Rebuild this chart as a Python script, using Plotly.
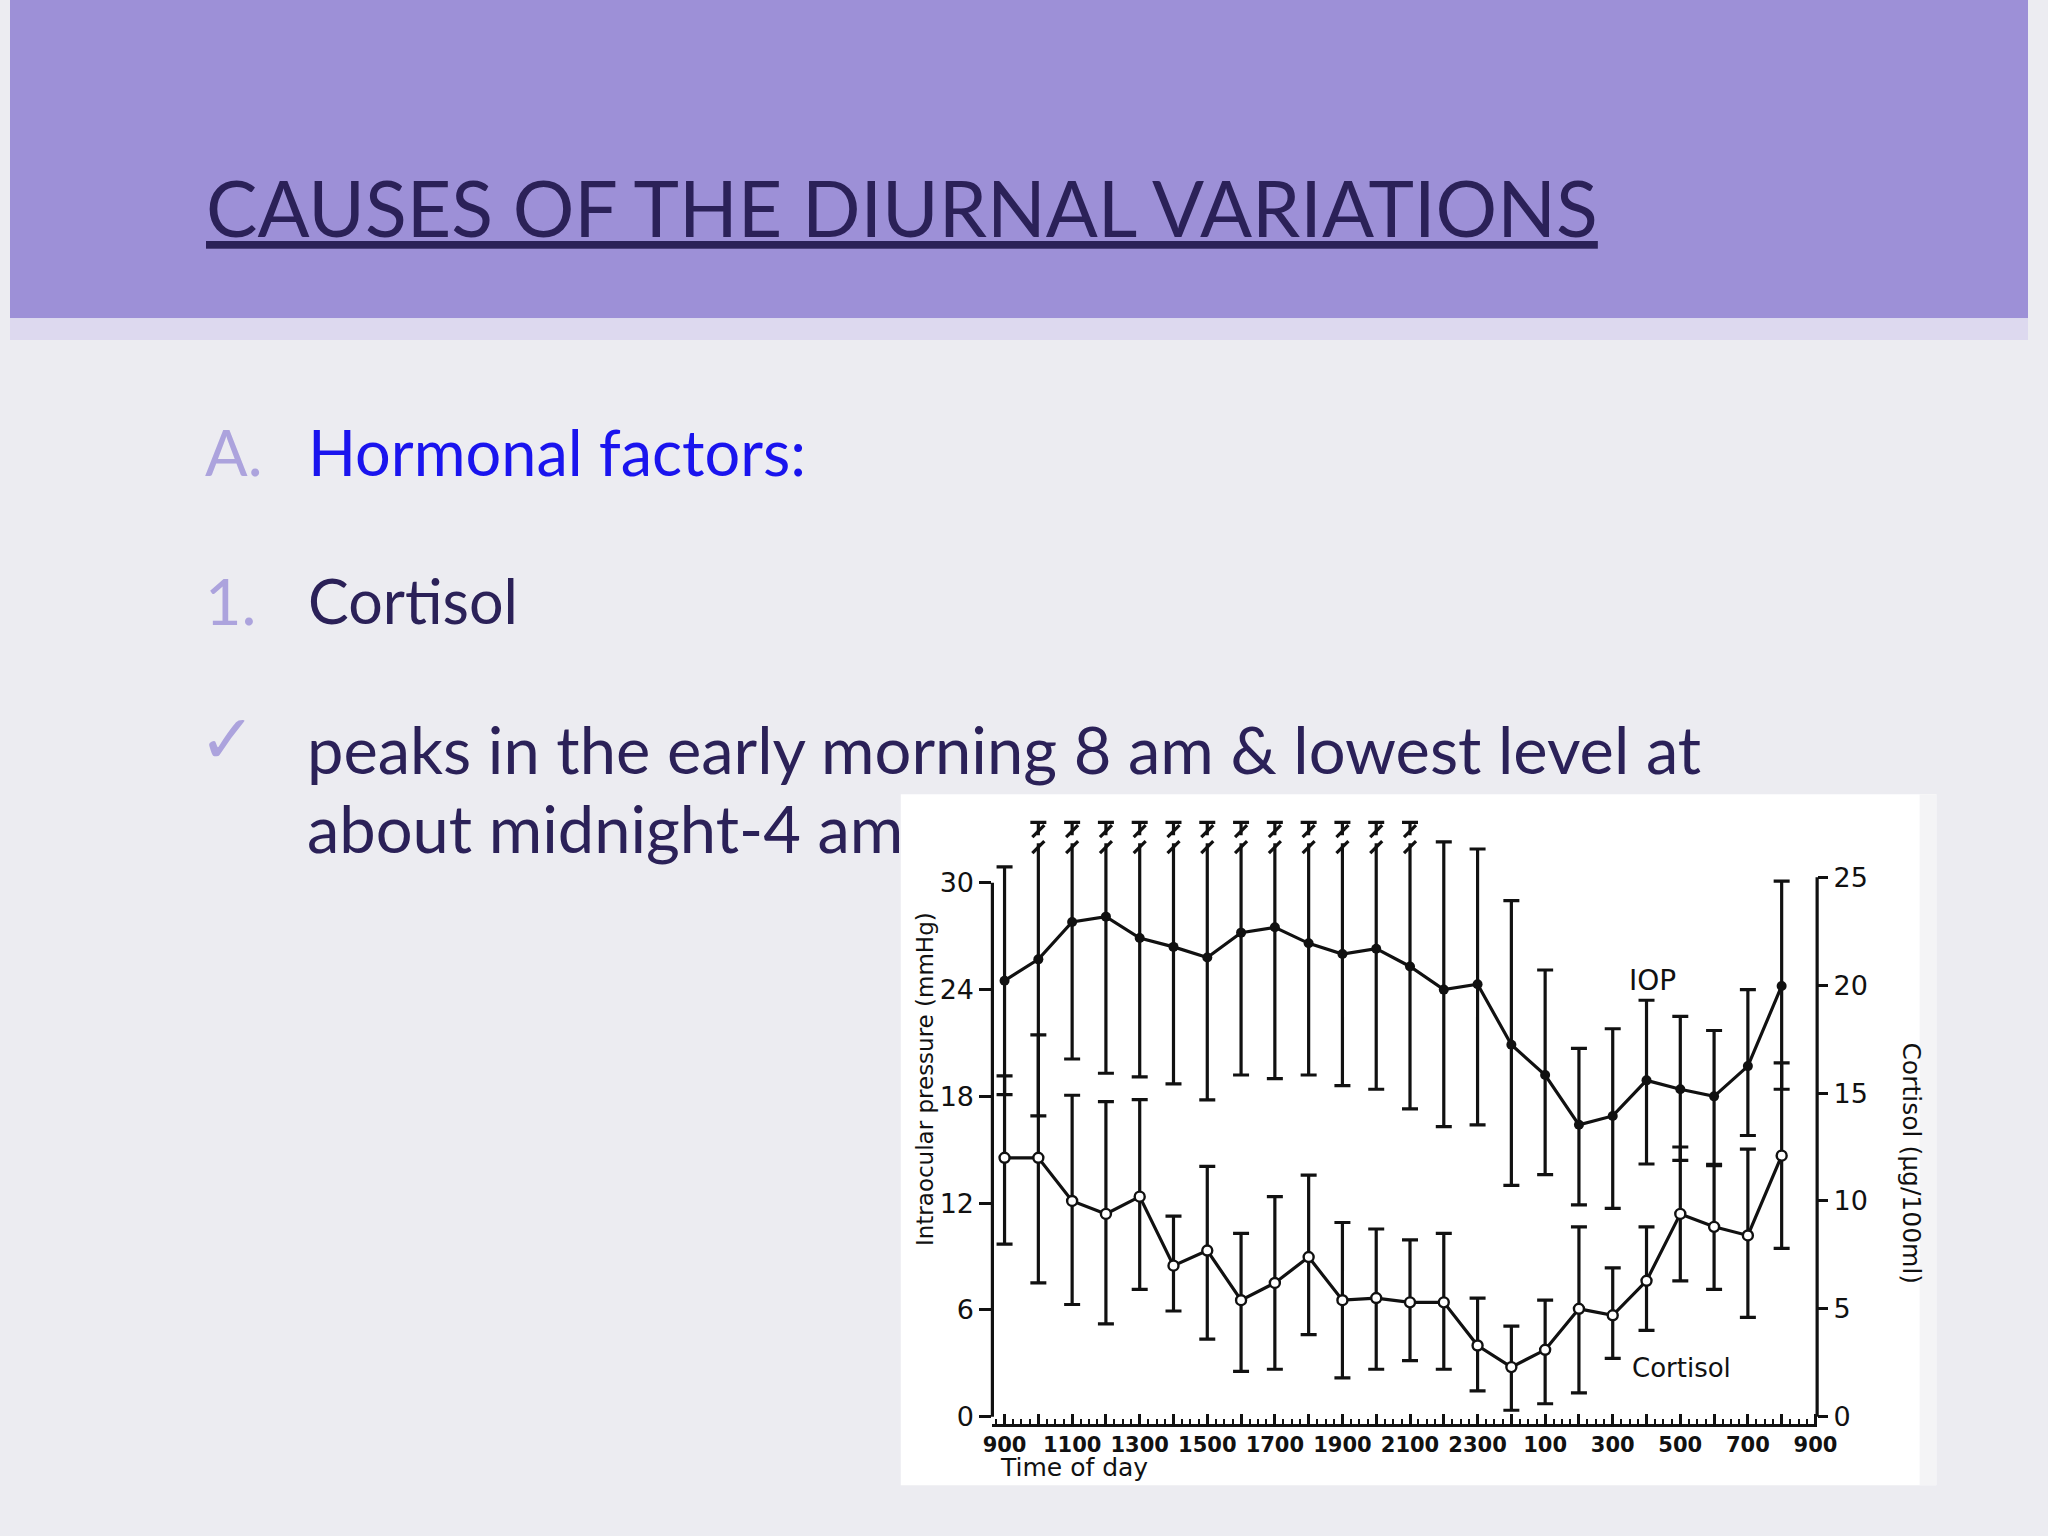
import plotly.graph_objects as go

W, H = 2048, 1536

# hours after 09:00 (0 = 900, 15 = 2400, 23 = 800 next morning)
hours = list(range(24))
tick_hours = list(range(25))
tick_text = ["900", "", "1100", "", "1300", "", "1500", "", "1700", "", "1900", "",
             "2100", "", "2300", "", "100", "", "300", "", "500", "", "700", "", "900"]

# intraocular pressure (mmHg), filled circles
iop = [24.5, 25.7, 27.8, 28.1, 26.9, 26.4, 25.8, 27.2, 27.5, 26.6, 26.0, 26.3,
       25.3, 24.0, 24.3, 20.9, 19.2, 16.4, 16.9, 18.9, 18.4, 18.0, 19.7, 24.2]
# None = bar runs off the top of the scale (drawn broken)
iop_top = [30.9, None, None, None, None, None, None, None, None, None, None, None,
           None, 32.3, 31.9, 29.0, 25.1, 20.7, 21.8, 23.4, 22.5, 21.7, 24.0, 30.1]
iop_bottom = [18.1, 16.9, 20.1, 19.3, 19.1, 18.7, 17.8, 19.2, 19.0, 19.2, 18.6, 18.4,
              17.3, 16.3, 16.4, 13.0, 13.6, 11.9, 11.7, 14.2, 14.4, 14.1, 15.8, 18.4]

# plasma cortisol (ug/100ml), open circles
cortisol = [12.0, 12.0, 10.0, 9.4, 10.2, 7.0, 7.7, 5.4, 6.2, 7.4, 5.4, 5.5,
            5.3, 5.3, 3.3, 2.3, 3.1, 5.0, 4.7, 6.3, 9.4, 8.8, 8.4, 12.1]
cort_top = [15.8, 17.7, 14.9, 14.6, 14.7, 9.3, 11.6, 8.5, 10.2, 11.2, 9.0, 8.7,
            8.2, 8.5, 5.5, 4.2, 5.4, 8.8, 6.9, 8.8, 12.5, 11.7, 12.4, 16.4]
cort_bottom = [8.0, 6.2, 5.2, 4.3, 5.9, 4.9, 3.6, 2.1, 2.2, 3.8, 1.8, 2.2,
               2.6, 2.2, 1.2, 0.3, 0.6, 1.1, 2.7, 4.0, 6.3, 5.9, 4.6, 7.8]

IOP_CAP = 33.4      # where off-scale bars are capped
BREAK_Y = 32.45     # break mark position

iop_up = [(t if t is not None else IOP_CAP) - v for t, v in zip(iop_top, iop)]
iop_dn = [v - b for v, b in zip(iop, iop_bottom)]
cort_up = [t - v for t, v in zip(cort_top, cortisol)]
cort_dn = [v - b for v, b in zip(cortisol, cort_bottom)]
broken = [h for h, t in zip(hours, iop_top) if t is None]


def px(x):
    return x / W


def py(y):
    return 1 - y / H


INK = "#111111"
LW = 3.2
fig = go.Figure()

fig.add_trace(go.Scatter(
    x=hours, y=iop, mode="lines+markers", name="IOP",
    line=dict(color=INK, width=LW),
    marker=dict(symbol="circle", size=10, color=INK),
    error_y=dict(type="data", symmetric=False, array=iop_up, arrayminus=iop_dn,
                 color=INK, thickness=LW, width=8),
))
# break marks on the off-scale bars
fig.add_trace(go.Scatter(
    x=broken, y=[BREAK_Y] * len(broken), mode="markers",
    marker=dict(symbol="square", size=8, color="white", line=dict(width=0)),
))
fig.add_trace(go.Scatter(
    x=broken + broken, y=[BREAK_Y + 0.45] * len(broken) + [BREAK_Y - 0.45] * len(broken),
    mode="markers",
    marker=dict(symbol="line-ne", size=12, color=INK, line=dict(color=INK, width=LW)),
))
fig.add_trace(go.Scatter(
    x=hours, y=cortisol, mode="lines+markers", name="Cortisol", yaxis="y2",
    line=dict(color=INK, width=LW),
    marker=dict(symbol="circle", size=10, color="white", line=dict(color=INK, width=2.4)),
    error_y=dict(type="data", symmetric=False, array=cort_up, arrayminus=cort_dn,
                 color=INK, thickness=LW, width=8),
))

# slide background pieces
shapes = [
    dict(type="rect", xref="paper", yref="paper", x0=0, x1=1, y0=py(320), y1=1,
         fillcolor="#9d90d7", line_width=0, layer="below"),
    dict(type="rect", xref="paper", yref="paper", x0=0, x1=1, y0=py(342), y1=py(320),
         fillcolor="#ddd9ef", line_width=0, layer="below"),
    dict(type="rect", xref="paper", yref="paper", x0=px(904), x1=px(1955), y0=py(1494), y1=py(799),
         fillcolor="white", line_width=0, layer="below"),
    dict(type="rect", xref="paper", yref="paper", x0=px(1938), x1=px(1955), y0=py(1494), y1=py(799),
         fillcolor="#f4f4f6", line_width=0, layer="below"),
    # vertical axis lines only span the labelled range
    dict(type="line", xref="x domain", yref="y", x0=0, x1=0, y0=0, y1=30,
         line=dict(color=INK, width=LW)),
    dict(type="line", xref="x domain", yref="y2", x0=1, x1=1, y0=0, y1=25,
         line=dict(color=INK, width=LW)),
]

TXT = "#2b2158"
LAV = "#aca3dd"
SLIDE_FONT = "Lato"
ann = [
    dict(text="<u>CAUSES OF THE DIURNAL VARIATIONS</u>", x=px(197), y=py(208),
         font=dict(family=SLIDE_FONT, size=77, color=TXT)),
    dict(text="A.", x=px(196), y=py(454), font=dict(family=SLIDE_FONT, size=63, color=LAV)),
    dict(text="Hormonal factors:", x=px(300), y=py(454),
         font=dict(family=SLIDE_FONT, size=63, color="#1a14ee")),
    dict(text="1.", x=px(196), y=py(604), font=dict(family=SLIDE_FONT, size=63, color=LAV)),
    dict(text="Cortisol", x=px(300), y=py(604), font=dict(family=SLIDE_FONT, size=61, color=TXT)),
    dict(text="✓", x=px(190), y=py(744), font=dict(family="DejaVu Sans", size=68, color=LAV)),
    dict(text="peaks in the early morning 8 am &amp; lowest level at", x=px(299), y=py(753),
         font=dict(family=SLIDE_FONT, size=65, color=TXT)),
    dict(text="about midnight-4 am", x=px(299), y=py(833),
         font=dict(family=SLIDE_FONT, size=65, color=TXT)),
    # chart labels
    dict(text="Intraocular pressure (mmHg)", x=px(928), y=py(1085), textangle=-90,
         xanchor="center", font=dict(family="DejaVu Sans", size=23, color=INK)),
    dict(text="Cortisol (µg/100ml)", x=px(1930), y=py(1170), textangle=90,
         xanchor="center", font=dict(family="DejaVu Sans", size=25, color=INK)),
    dict(text="Time of day", x=px(1003), y=py(1476),
         font=dict(family="DejaVu Sans", size=25, color=INK)),
    dict(text="IOP", x=px(1667), y=py(986), xanchor="center",
         font=dict(family="DejaVu Sans", size=28, color=INK)),
    dict(text="Cortisol", x=px(1696), y=py(1376), xanchor="center",
         font=dict(family="DejaVu Sans", size=26, color=INK)),
]
for a in ann:
    a.setdefault("xanchor", "left")
    a.update(xref="paper", yref="paper", yanchor="middle", showarrow=False)

fig.update_layout(
    width=W, height=H, autosize=False,
    margin=dict(l=0, r=0, t=0, b=0),
    paper_bgcolor="#ececf1", plot_bgcolor="rgba(0,0,0,0)",
    showlegend=False,
    shapes=shapes, annotations=ann,
    xaxis=dict(
        domain=[px(997), px(1834)], range=[-0.36, 24.05],
        tickvals=tick_hours, ticktext=tick_text,
        ticks="inside", ticklen=10, tickwidth=2.5, tickcolor=INK,
        minor=dict(ticks="inside", dtick=0.25, tick0=0, ticklen=5, tickwidth=2, tickcolor=INK),
        showline=True, linecolor=INK, linewidth=LW,
        showgrid=False, zeroline=False,
        tickfont=dict(family="DejaVu Sans", size=21, color=INK, weight="bold"),
    ),
    yaxis=dict(
        domain=[py(1432), py(815)], range=[-0.39, 34.08],
        tickvals=[0, 6, 12, 18, 24, 30],
        ticks="outside", ticklen=12, tickwidth=2.5, tickcolor=INK,
        showline=False, showgrid=False, zeroline=False,
        tickfont=dict(family="DejaVu Sans", size=27, color=INK),
    ),
    yaxis2=dict(
        overlaying="y", side="right", range=[-0.32, 28.11],
        tickvals=[0, 5, 10, 15, 20, 25],
        ticks="outside", ticklen=10, tickwidth=2.5, tickcolor=INK,
        showline=False, showgrid=False, zeroline=False,
        tickfont=dict(family="DejaVu Sans", size=27, color=INK),
    ),
)

page_fix = (
    "document.documentElement.style.margin = '0';"
    "document.documentElement.style.overflow = 'hidden';"
    "document.body.style.margin = '0';"
    "document.body.style.padding = '0';"
    "document.body.style.overflow = 'hidden';"
)
fig.write_html("out.html", config={"displayModeBar": False}, post_script=page_fix)
